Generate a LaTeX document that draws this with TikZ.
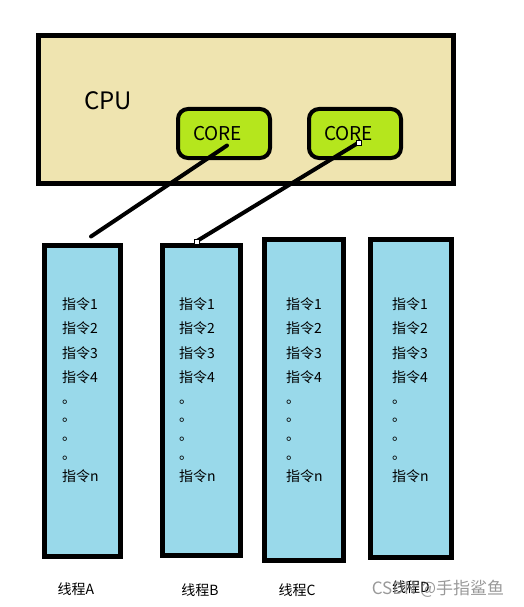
\documentclass[tikz,border=0pt]{standalone}
\usepackage{fontspec}
\setmainfont{Noto Sans CJK SC}
\definecolor{cpufill}{HTML}{EFE4B0}
\definecolor{corefill}{HTML}{B5E61D}
\definecolor{threadfill}{HTML}{99D9EA}

\begin{document}
\begin{tikzpicture}[x=1pt,y=-1pt]
    \tikzstyle{every node}+=[inner sep=0pt]
    \tikzstyle{cpubox}=[draw=black, fill=cpufill, line width=5pt]
    \tikzstyle{corebox}=[draw=black, fill=corefill, line width=4pt, rounded corners=10pt,
        minimum width=92pt, minimum height=49pt]
    \tikzstyle{threadbox}=[draw=black, fill=threadfill, line width=5pt]
    \tikzstyle{instr}=[anchor=west, font=\fontsize{14}{14}\selectfont]
    \tikzstyle{link}=[black, line width=4pt, line cap=round]
    \tikzstyle{handle}=[draw=black, fill=white, line width=0.6pt, minimum size=5pt]
    \useasboundingbox (0,0) rectangle (523,607);
    % CPU
    \node [cpubox, minimum width=415pt, minimum height=147.5pt] (cpu) at (246,109.25) {};
    \node [font=\fontsize{24}{24}\selectfont] (cputext) at (108,101) {CPU};
    \node [corebox, label={[xshift=-6.5pt, font=\fontsize{19}{19}\selectfont]center:CORE}] (core1) at (224,133.5) {};
    \node [corebox, label={[xshift=-6.5pt, font=\fontsize{19}{19}\selectfont]center:CORE}] (core2) at (355,133.5) {};
    % threads
    \foreach \n/\cx/\cy/\w/\h/\tx/\lx/\ly in {A/82.25/400.5/75.5/311/62/76/589,
        B/201.5/400.5/78/310/179/200/590, C/304/400/79/321/286/297/590,
        D/411/398.5/81/318/392/411/587} {
        \node [threadbox, minimum width=\w pt, minimum height=\h pt] (thread\n) at (\cx,\cy) {};
        \foreach \t/\y in {指令1/304, 指令2/328, 指令3/353, 指令4/377, 。/402, 。/420, 。/439, 。/458, 指令n/476}
            \node [instr] at (\tx,\y) {\t};
        \node [font=\fontsize{14}{14}\selectfont] (label\n) at (\lx,\ly) {线程\n};
    }
    \node [font=\fontsize{17}{17}\selectfont, text=gray, opacity=0.8] (mark) at (438,589) {CSDN @手指鲨鱼};
    % links
    \draw [link] ([shift={(3,12)}]core1.center) -- ([shift={(8.75,-6)}]threadA.north);
    \draw [link] ([shift={(3,9.5)}]core2.center) -- ([shift={(-4.5,-2)}]threadB.north);
    \node [handle] at ([shift={(4,9.5)}]core2.center) {};
    \node [handle] at ([shift={(-4.5,-1.5)}]threadB.north) {};
\end{tikzpicture}
\end{document}
